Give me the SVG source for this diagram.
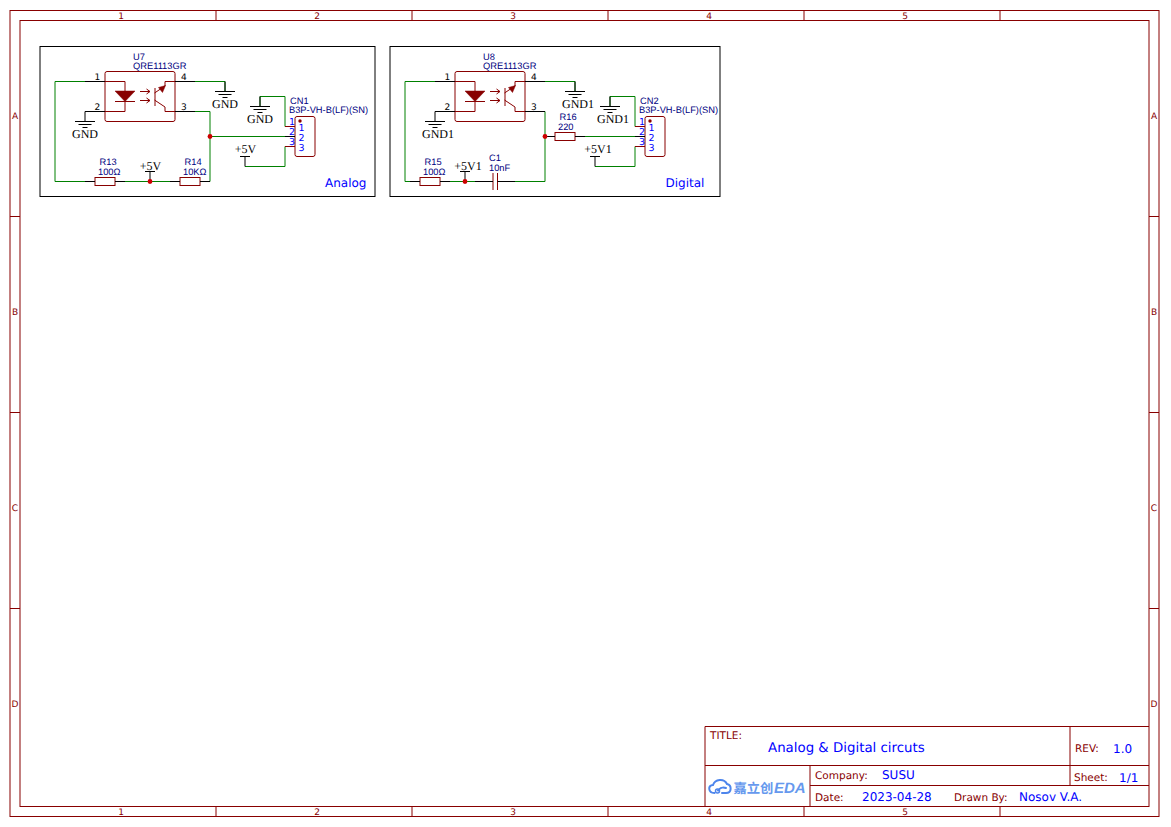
<svg xmlns="http://www.w3.org/2000/svg" width="1171" height="827" viewBox="0 0 1171 827">
<style>
text{font-family:"DejaVu Sans",sans-serif;text-rendering:geometricPrecision}
.fr{fill:none;stroke:#880000;stroke-width:1}
.fl{font-size:9px;fill:#880000;text-anchor:middle}
.ft{font-size:10.5px;fill:#880000}
.fv{font-size:12px;fill:#0000ff}
.box{fill:none;stroke:#000;stroke-width:1}
.w{fill:none;stroke:#008000;stroke-width:1}
.p{fill:none;stroke:#000;stroke-width:1}
.s{fill:none;stroke:#880000;stroke-width:1}
.f{fill:#880000;stroke:#880000;stroke-width:.5}
.j{fill:#cc0000;stroke:none}
.n{font-family:"Liberation Sans",Arial,sans-serif;font-size:9.3px;fill:#000080}
.pn{font-size:9px;fill:#000}
.pb{font-size:9.500px;fill:#0000ff}
.nt{font-family:"Liberation Serif","Times New Roman",serif;font-size:12px;fill:#000;text-anchor:middle}
.gl{fill:none;stroke:#000;stroke-width:1}
.lb{font-size:12px;fill:#0000ff}
</style>
<defs>
<g id="gnd"><path class="gl" d="M0 0V10M-10 10H10M-6.500 13H6.500M-2.500 16H2.500"/></g>
<g id="vcc"><path class="gl" d="M0 0V-10M-5 -10H5"/></g>
<g id="opto">
<rect class="s" x="105" y="71.500" width="70" height="50" rx="2"/>
<path class="s" d="M105 81.500H125V91M125 101.500V111.500H105M115 101.500H135M175 81.500H165V86L154.500 93M155 88V106M154.500 100L165 107V111.500H175"/>
<path class="f" d="M115 91H135L125 101.500Z"/>
<path class="s" d="M140 91.500H150M146.500 89L150 91.500L146.500 94M140 100.500H150M146.500 98L150 100.500L146.500 103"/>
<path class="f" d="M165.500 85.500L162.500 92.500L158.500 87.500Z"/>
<path class="p" d="M85 81.500H105M85 111.500H105M175 81.500H195M175 111.500H195"/>
<text class="pn" x="94.500" y="80">1</text><text class="pn" x="94.500" y="110">2</text>
<text class="pn" x="181" y="110">3</text><text class="pn" x="181" y="80">4</text>
</g>
<g id="conn">
<rect class="s" x="295" y="116.500" width="20" height="40" rx="2"/>
<circle cx="300" cy="121" r="1.700" fill="#880000"/>
<path class="s" d="M285 126.500H295M285 146.500H295"/><path class="p" d="M285 136.500H295"/>
<text class="pb" x="289" y="125.300">1</text><text class="pb" x="289" y="135.300">2</text><text class="pb" x="289" y="145">3</text>
<text class="pb" x="298.500" y="130.500">1</text><text class="pb" x="298.500" y="140.500">2</text><text class="pb" x="298.500" y="150.500">3</text>
</g>
<g id="res"><rect class="s" x="0" y="-4" width="20" height="8"/><path class="p" d="M-10 0H0M20 0H30"/></g>
</defs>
<g id="frame">
<rect class="fr" x="10" y="10.500" width="1149" height="806"/>
<rect class="fr" x="20" y="20.500" width="1129" height="786"/>
<path class="fr" d="M216 10V20M412 10V20M608 10V20M804 10V20M1000 10V20M216 807V817M412 807V817M608 807V817M804 807V817M1000 807V817M10 216.500H20M10 412.500H20M10 608.500H20M1149 216.500H1159M1149 412.500H1159M1149 608.500H1159"/>
<text class="fl" x="121" y="19">1</text><text class="fl" x="317" y="19">2</text><text class="fl" x="513" y="19">3</text><text class="fl" x="709" y="19">4</text><text class="fl" x="905" y="19">5</text>
<text class="fl" x="121" y="815">1</text><text class="fl" x="317" y="815">2</text><text class="fl" x="513" y="815">3</text><text class="fl" x="709" y="815">4</text><text class="fl" x="905" y="815">5</text>
<text class="fl" x="15" y="119">A</text><text class="fl" x="15" y="315">B</text><text class="fl" x="15" y="511">C</text><text class="fl" x="15" y="707">D</text>
<text class="fl" x="1154" y="119">A</text><text class="fl" x="1154" y="315">B</text><text class="fl" x="1154" y="511">C</text><text class="fl" x="1154" y="707">D</text>
</g>
<g id="title-block">
<path class="fr" d="M705 806.500V726.500H1149M705 765.500H1149M810 765.500V806.500M810 785.500H1149M1070 726.500V785.500"/>
<text class="ft" x="710" y="739">TITLE:</text>
<text x="768" y="752" style="font-size:13.350px;fill:#0000ff">Analog &amp; Digital circuts</text>
<text class="ft" x="1075" y="752">REV:</text><text class="fv" x="1113" y="753">1.0</text>
<text class="ft" x="815" y="779">Company:</text><text class="fv" x="882" y="779">SUSU</text>
<text class="ft" x="1074" y="781">Sheet:</text><text class="fv" x="1119" y="782">1/1</text>
<text class="ft" x="815" y="801">Date:</text><text class="fv" x="862" y="801">2023-04-28</text>
<text class="ft" x="954" y="801">Drawn By:</text><text class="fv" x="1019" y="801">Nosov V.A.</text>
<g id="logo">
<path d="M714.500 793C708 793 707.500 785 713 785C715 779 724 778 727 784C732 785 732 793 726 793H722M718 790.500C721 787 723 787 726 788" fill="none" stroke="#4d85ec" stroke-width="2" stroke-linecap="round"/>
<circle cx="717.500" cy="791" r="2" fill="none" stroke="#4d85ec" stroke-width="1.500"/>
<text x="733.500" y="792.500" style="font-family:'Noto Sans CJK SC',sans-serif;font-size:13.300px;font-weight:700;fill:#6699ee">嘉立创</text>
<text x="774" y="793" style="font-family:'Liberation Sans',sans-serif;font-size:15px;font-weight:700;font-style:italic;fill:#6699ee">EDA</text>
</g>
</g>
<g id="panels">
<rect class="box" x="40" y="46.500" width="335" height="150"/>
<rect class="box" x="390" y="46.500" width="330" height="150"/>
<text class="lb" x="325" y="186.500">Analog</text>
<text class="lb" x="665.500" y="186.500">Digital</text>
</g>
<g id="connectors">
<path class="w" d="M85 81.500H55V181.500H85M125 181.500H170M200 181.500H210V111.500H195M210 136.500H285M195 81.500H225V91.500M260 106V96.500H285V126.500M285 146.500V166.500H245"/>
<path class="w" d="M435 81.500H405V181.500H410M450 181.500H475M515 181.500H545V111.500M585 136.500H635M575 91.500V81.500H545M610 106V96.500H635V126.500M635 146.500V166.500H595"/>
</g>
<g id="U7"><use href="#opto"/><text class="n" x="133" y="59.500">U7</text><text class="n" x="133" y="68.700">QRE1113GR</text></g>
<g id="U8"><use href="#opto" x="350"/><text class="n" x="483" y="59.500">U8</text><text class="n" x="483" y="68.700">QRE1113GR</text></g>
<g id="GND-a"><use href="#gnd" x="225" y="81.500"/><text class="nt" x="225" y="107.500">GND</text></g>
<g id="GND-b"><use href="#gnd" x="85" y="111.500"/><text class="nt" x="85" y="137.500">GND</text></g>
<g id="GND-c"><use href="#gnd" x="260" y="96.500"/><text class="nt" x="260" y="122.500">GND</text></g>
<g id="GND1-a"><use href="#gnd" x="575" y="81.500"/><text class="nt" x="578" y="107.500">GND1</text></g>
<g id="GND1-b"><use href="#gnd" x="435" y="111.500"/><text class="nt" x="438" y="137.500">GND1</text></g>
<g id="GND1-c"><use href="#gnd" x="610" y="96.500"/><text class="nt" x="613" y="122.500">GND1</text></g>
<g id="CN1"><use href="#conn"/><text class="n" x="290" y="104">CN1</text><text class="n" x="289" y="113.300">B3P-VH-B(LF)(SN)</text></g>
<g id="CN2"><use href="#conn" x="350"/><text class="n" x="640" y="104">CN2</text><text class="n" x="639" y="113.300">B3P-VH-B(LF)(SN)</text></g>
<g id="R13"><use href="#res" x="95" y="181.500"/><text class="n" x="99.500" y="165">R13</text><text class="n" x="98" y="174.500">100Ω</text></g>
<g id="R14"><use href="#res" x="180" y="181.500"/><text class="n" x="184.500" y="165">R14</text><text class="n" x="183" y="174.500">10KΩ</text></g>
<g id="R15"><use href="#res" x="420" y="181.500"/><text class="n" x="424.500" y="165">R15</text><text class="n" x="423" y="174.500">100Ω</text></g>
<g id="R16"><use href="#res" x="555" y="136.500"/><text class="n" x="559.500" y="120">R16</text><text class="n" x="558" y="129.500">220</text></g>
<g id="C1"><path class="s" d="M493 173V190M497.500 173V190"/><path class="p" d="M475 181.500H493M497.500 181.500H515"/><text class="n" x="489" y="161">C1</text><text class="n" x="489" y="170.500">10nF</text></g>
<g id="V5-a"><use href="#vcc" x="150" y="181.500"/><circle class="j" cx="150" cy="181.500" r="2.400"/><text class="nt" x="150.500" y="169.500">+5V</text></g>
<g id="V5-b"><use href="#vcc" x="245" y="166.500"/><text class="nt" x="245.500" y="152.500">+5V</text></g>
<g id="V51-a"><use href="#vcc" x="465" y="181.500"/><circle class="j" cx="465" cy="181.500" r="2.400"/><text class="nt" x="468" y="169.500">+5V1</text></g>
<g id="V51-b"><use href="#vcc" x="595" y="166.500"/><text class="nt" x="598" y="152.500">+5V1</text></g>
<g id="J1"><circle class="j" cx="210" cy="136.500" r="2.400"/></g>
<g id="J2"><circle class="j" cx="545" cy="136.500" r="2.400"/></g>
</svg>
